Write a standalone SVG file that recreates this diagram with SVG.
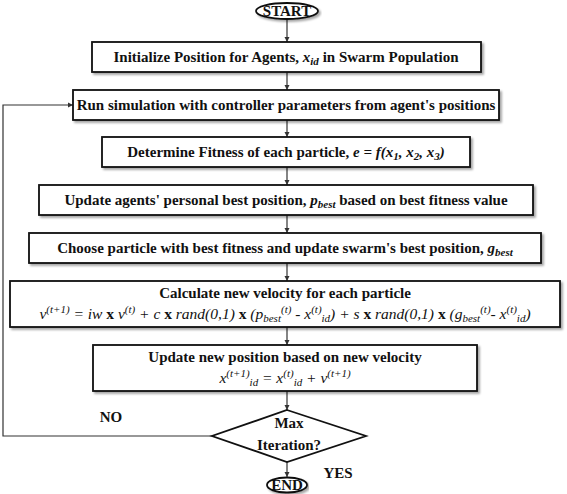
<svg xmlns="http://www.w3.org/2000/svg" width="567" height="494" viewBox="0 0 567 494">
<defs>
<filter id="sh" x="-5%" y="-20%" width="110%" height="150%">
<feDropShadow dx="2" dy="2" stdDeviation="1" flood-color="#000" flood-opacity="0.35"/>
</filter>
<marker id="ah" markerWidth="6" markerHeight="6" refX="5" refY="3" orient="auto" markerUnits="userSpaceOnUse">
<path d="M0,0.5 L5,3 L0,5.5 Z" fill="#333"/>
</marker>
</defs>
<style>
.box{fill:#fff;stroke:#111;stroke-width:1.8;filter:url(#sh)}
.t{font-family:"Liberation Serif","Times New Roman",serif;font-weight:bold;font-size:15px;fill:#111;text-anchor:middle}
.m{font-style:italic}
.f{font-family:"Liberation Serif","Times New Roman",serif;font-style:italic;font-size:15.5px;fill:#111;text-anchor:middle}
.u{font-style:normal;font-weight:bold}
.s{font-size:11px}
.c{fill:none;stroke:#333;stroke-width:1.2;marker-end:url(#ah)}
</style>

<g id="connectors">
<line class="c" x1="287" y1="19" x2="287" y2="42"/>
<line class="c" x1="287" y1="72" x2="287" y2="90"/>
<line class="c" x1="287" y1="120" x2="287" y2="137"/>
<line class="c" x1="287" y1="167" x2="287" y2="185"/>
<line class="c" x1="287" y1="215" x2="287" y2="233"/>
<line class="c" x1="287" y1="263" x2="287" y2="281"/>
<line class="c" x1="287" y1="327" x2="287" y2="345"/>
<line class="c" x1="287" y1="391" x2="287" y2="410"/>
<line class="c" x1="287" y1="462" x2="287" y2="477"/>
<polyline class="c" points="212,436 3,436 3,105 73,105"/>
</g>

<g id="start">
<ellipse cx="287" cy="11" rx="31" ry="8" fill="#fff" stroke="#111" stroke-width="1.8" filter="url(#sh)"/>
<text class="t" x="287" y="16" font-size="14">START</text>
</g>

<g id="init">
<rect class="box" x="92" y="42" width="389" height="30"/>
<text class="t" x="286" y="62">Initialize Position for Agents, <tspan class="m">x</tspan><tspan class="m s" dy="3">id</tspan><tspan dy="-3"> in Swarm Population</tspan></text>
</g>

<g id="run">
<rect class="box" x="73" y="90" width="426" height="30"/>
<text class="t" x="286" y="110">Run simulation with controller parameters from agent's positions</text>
</g>

<g id="fitness">
<rect class="box" x="102" y="137" width="368" height="30"/>
<text class="t" x="286" y="157">Determine Fitness of each particle, <tspan class="m">e = f(x</tspan><tspan class="m s" dy="3">1</tspan><tspan class="m" dy="-3">, x</tspan><tspan class="m s" dy="3">2</tspan><tspan class="m" dy="-3">, x</tspan><tspan class="m s" dy="3">3</tspan><tspan class="m" dy="-3">)</tspan></text>
</g>

<g id="pbest">
<rect class="box" x="39" y="185" width="494" height="30"/>
<text class="t" x="286" y="205">Update agents' personal best position, <tspan class="m">p</tspan><tspan class="m s" dy="3">best</tspan><tspan dy="-3"> based on best fitness value</tspan></text>
</g>

<g id="gbest">
<rect class="box" x="29" y="233" width="512" height="30"/>
<text class="t" x="285" y="253">Choose particle with best fitness and update swarm's best position, <tspan class="m">g</tspan><tspan class="m s" dy="3">best</tspan></text>
</g>

<g id="velocity">
<rect class="box" x="10" y="281" width="550" height="46"/>
<text class="t" x="285" y="298">Calculate new velocity for each particle</text>
<text class="f" x="285" y="319">v<tspan class="s" dy="-6">(t+1)</tspan><tspan dy="6"> = iw </tspan><tspan class="u">x</tspan> v<tspan class="s" dy="-6">(t)</tspan><tspan dy="6"> + c </tspan><tspan class="u">x</tspan> rand(0,1) <tspan class="u">x</tspan> (p<tspan class="s" dy="3">best</tspan><tspan class="s" dy="-9">(t)</tspan><tspan dy="6"> - x</tspan><tspan class="s" dy="-6">(t)</tspan><tspan class="s" dy="9">id</tspan><tspan dy="-3">) + s </tspan><tspan class="u">x</tspan> rand(0,1) <tspan class="u">x</tspan> (g<tspan class="s" dy="3">best</tspan><tspan class="s" dy="-9">(t)</tspan><tspan dy="6">- x</tspan><tspan class="s" dy="-6">(t)</tspan><tspan class="s" dy="9">id</tspan><tspan dy="-3">)</tspan></text>
</g>

<g id="position">
<rect class="box" x="93" y="345" width="384" height="46"/>
<text class="t" x="285" y="362">Update new position based on new velocity</text>
<text class="f" x="285" y="383" font-size="15">x<tspan class="s" dy="-6">(t+1)</tspan><tspan class="s" dy="9">id</tspan><tspan dy="-3"> = x</tspan><tspan class="s" dy="-6">(t)</tspan><tspan class="s" dy="9">id</tspan><tspan dy="-3"> + v</tspan><tspan class="s" dy="-6">(t+1)</tspan></text>
</g>

<g id="decision">
<polygon points="287,410 366,436 287,462 212,436" fill="#fff" stroke="#111" stroke-width="1.8"/>
<text class="t" x="289" y="428">Max</text>
<text class="t" x="289" y="450">Iteration?</text>
</g>

<g id="labels">
<text class="t" x="111" y="422">NO</text>
<text class="t" x="338" y="478">YES</text>
</g>

<g id="end">
<ellipse cx="287" cy="485" rx="20" ry="7.5" fill="#fff" stroke="#111" stroke-width="1.8" filter="url(#sh)"/>
<text class="t" x="287" y="490" font-size="14">END</text>
</g>
</svg>
